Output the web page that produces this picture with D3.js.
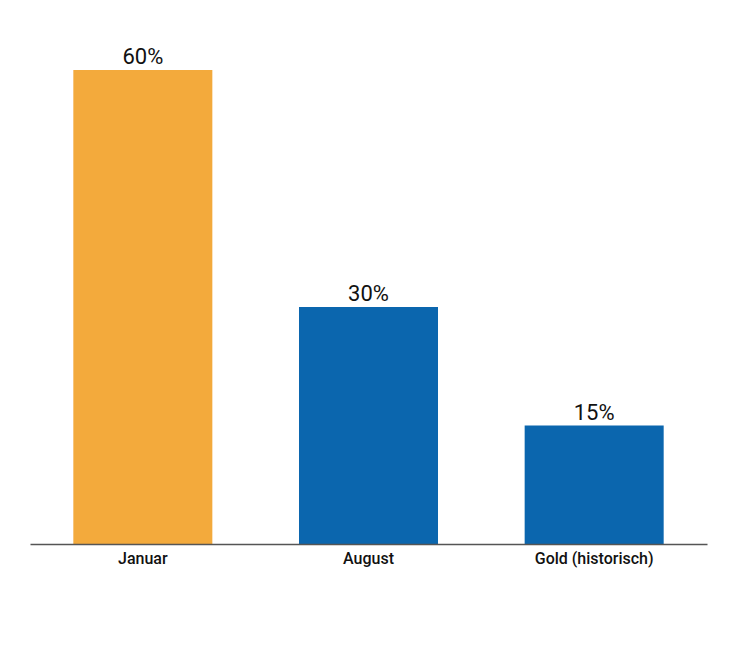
<!DOCTYPE html>
<html>
<head>
<meta charset="utf-8">
<script src="https://cdn.jsdelivr.net/npm/d3@7"></script>
<style>
  body { margin: 0; background: #fff; }
  svg { display: block; font-family: Roboto, sans-serif; }
</style>
</head>
<body>
<div id="wrapper"></div>
<script>
const categories = ["Januar", "August", "Gold (historisch)"];
const values = [60, 30, 15];
const barColors = ["#F3AA3C", "#0B66AE", "#0B66AE"];

const dimensions = {
  width: 737,
  height: 659,
  margins: { top: 70, right: 30, bottom: 115, left: 30 }
};
dimensions.boundedWidth = dimensions.width - dimensions.margins.left - dimensions.margins.right;
dimensions.boundedHeight = dimensions.height - dimensions.margins.top - dimensions.margins.bottom;

const svg = d3.select("#wrapper")
  .append("svg")
    .attr("width", dimensions.width)
    .attr("height", dimensions.height);

const bounds = svg.append("g")
  .attr("transform", `translate(${dimensions.margins.left},${dimensions.margins.top})`);

const xScale = d3.scaleBand()
  .domain(categories)
  .range([0, dimensions.boundedWidth])
  .paddingInner(0.384)
  .paddingOuter(0.192);

const yScale = d3.scaleLinear()
  .domain([0, 60])
  .range([dimensions.boundedHeight, 0]);

// bars
bounds.selectAll("rect")
  .data(categories)
  .join("rect")
    .attr("x", d => xScale(d))
    .attr("y", (d, i) => yScale(values[i]))
    .attr("width", xScale.bandwidth())
    .attr("height", (d, i) => dimensions.boundedHeight - yScale(values[i]))
    .attr("fill", (d, i) => barColors[i]);

// value labels
bounds.selectAll(".value")
  .data(categories)
  .join("text")
    .attr("class", "value")
    .attr("x", d => xScale(d) + xScale.bandwidth() / 2)
    .attr("y", (d, i) => yScale(values[i]) - 6)
    .attr("text-anchor", "middle")
    .attr("fill", "#111")
    .style("font-size", "22px")
    .text((d, i) => values[i] + "%");

// x axis
const xAxis = bounds.append("g")
  .attr("transform", `translate(0,${dimensions.boundedHeight})`)
  .call(d3.axisBottom(xScale).tickSize(0).tickPadding(9));

xAxis.select(".domain")
  .attr("stroke", "#555")
  .attr("stroke-width", 1.3);

xAxis.selectAll("text")
  .attr("fill", "#111")
  .style("font-size", "16px")
  .style("font-weight", "500")
  .style("font-family", "Roboto, sans-serif");
</script>
</body>
</html>
